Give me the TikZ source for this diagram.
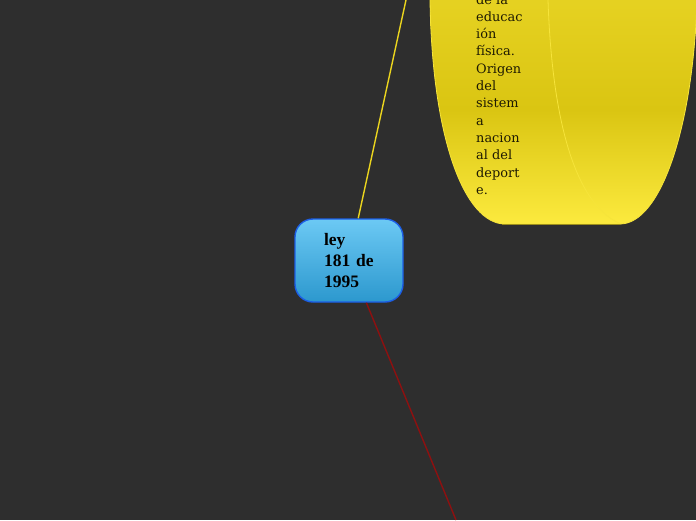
\documentclass[tikz,border=0pt]{standalone}
\usepackage{fontspec}
\usepackage{tikz}
\newfontfamily\topicfont{DejaVu Serif}
\newfontfamily\centralfont{Liberation Serif}
\definecolor{bgdark}{HTML}{2E2E2E}
\definecolor{yelltop}{HTML}{E6D222}
\definecolor{yellmid}{HTML}{DAC512}
\definecolor{yellbot}{HTML}{FCEA3E}
\definecolor{yelledge}{HTML}{F6E43A}
\definecolor{yellline}{HTML}{EBD51E}
\definecolor{olive}{HTML}{9C8E1A}
\definecolor{bluetop}{HTML}{6CC9F4}
\definecolor{bluebot}{HTML}{2C98CE}
\definecolor{blueedge}{HTML}{1C5EE6}
\definecolor{redline}{HTML}{8E1010}
\definecolor{topictext}{HTML}{1E1A02}
\tikzset{
	mainnode/.style={rectangle, rounded corners=18pt, draw=blueedge, line width=1.4pt,
		top color=bluetop, bottom color=bluebot, minimum width=108pt, minimum height=83pt,
		text width=50pt, align=left, font=\centralfont\fontsize{17.5}{21}\selectfont\bfseries, inner sep=0pt},
	subtext/.style={anchor=north west, align=left, text=topictext, inner sep=0pt,
		font=\topicfont\fontsize{12.9}{17.3}\selectfont}
}

\begin{document}
\begin{tikzpicture}[x=1pt, y=-1pt]
		%%%%% START %%%%%
		
		\fill[bgdark] (0, 0) rectangle (696, 520);
		\useasboundingbox (0, 0) rectangle (696, 520);
		
		\begin{scope}
		\clip (0, 0) rectangle (696, 520);
		% yellow topic
		\shade[top color=yelltop, bottom color=yellbot, middle color=yellmid, draw=yelledge, line width=0.8pt]
			(430, -5) -- (430, 0) .. controls (432, 140) and (465, 224) .. (505, 224)
			-- (620, 224) .. controls (660, 224) and (693, 130) .. (697, 0) -- (697, -5) -- cycle;
		\draw[yelledge, line width=0.8pt] (548, 0) .. controls (552, 120) and (575, 205) .. (621, 224);
		\draw[olive, line width=0.7pt] (502, 224.3) -- (620, 224.3);
		\node[subtext] (topic) at (476, -6) {de la\\ educac\\ ión\\ física.\\ Origen\\ del\\ sistem\\ a\\ nacion\\ al del\\ deport\\ e.};
		\end{scope}
		
		\coordinate (topend) at (406, 0);
		\coordinate (subend) at (456, 520);
		
		\node[mainnode] (ley) at (349, 260.5) {ley\\ 181 de\\ 1995};
		
		\draw[yellline, line width=1.4pt] (ley) -- (topend);
		\draw[redline, line width=1.4pt] (ley) -- (subend);
		
		%%%%% END %%%%%
	\end{tikzpicture}
\end{document}
